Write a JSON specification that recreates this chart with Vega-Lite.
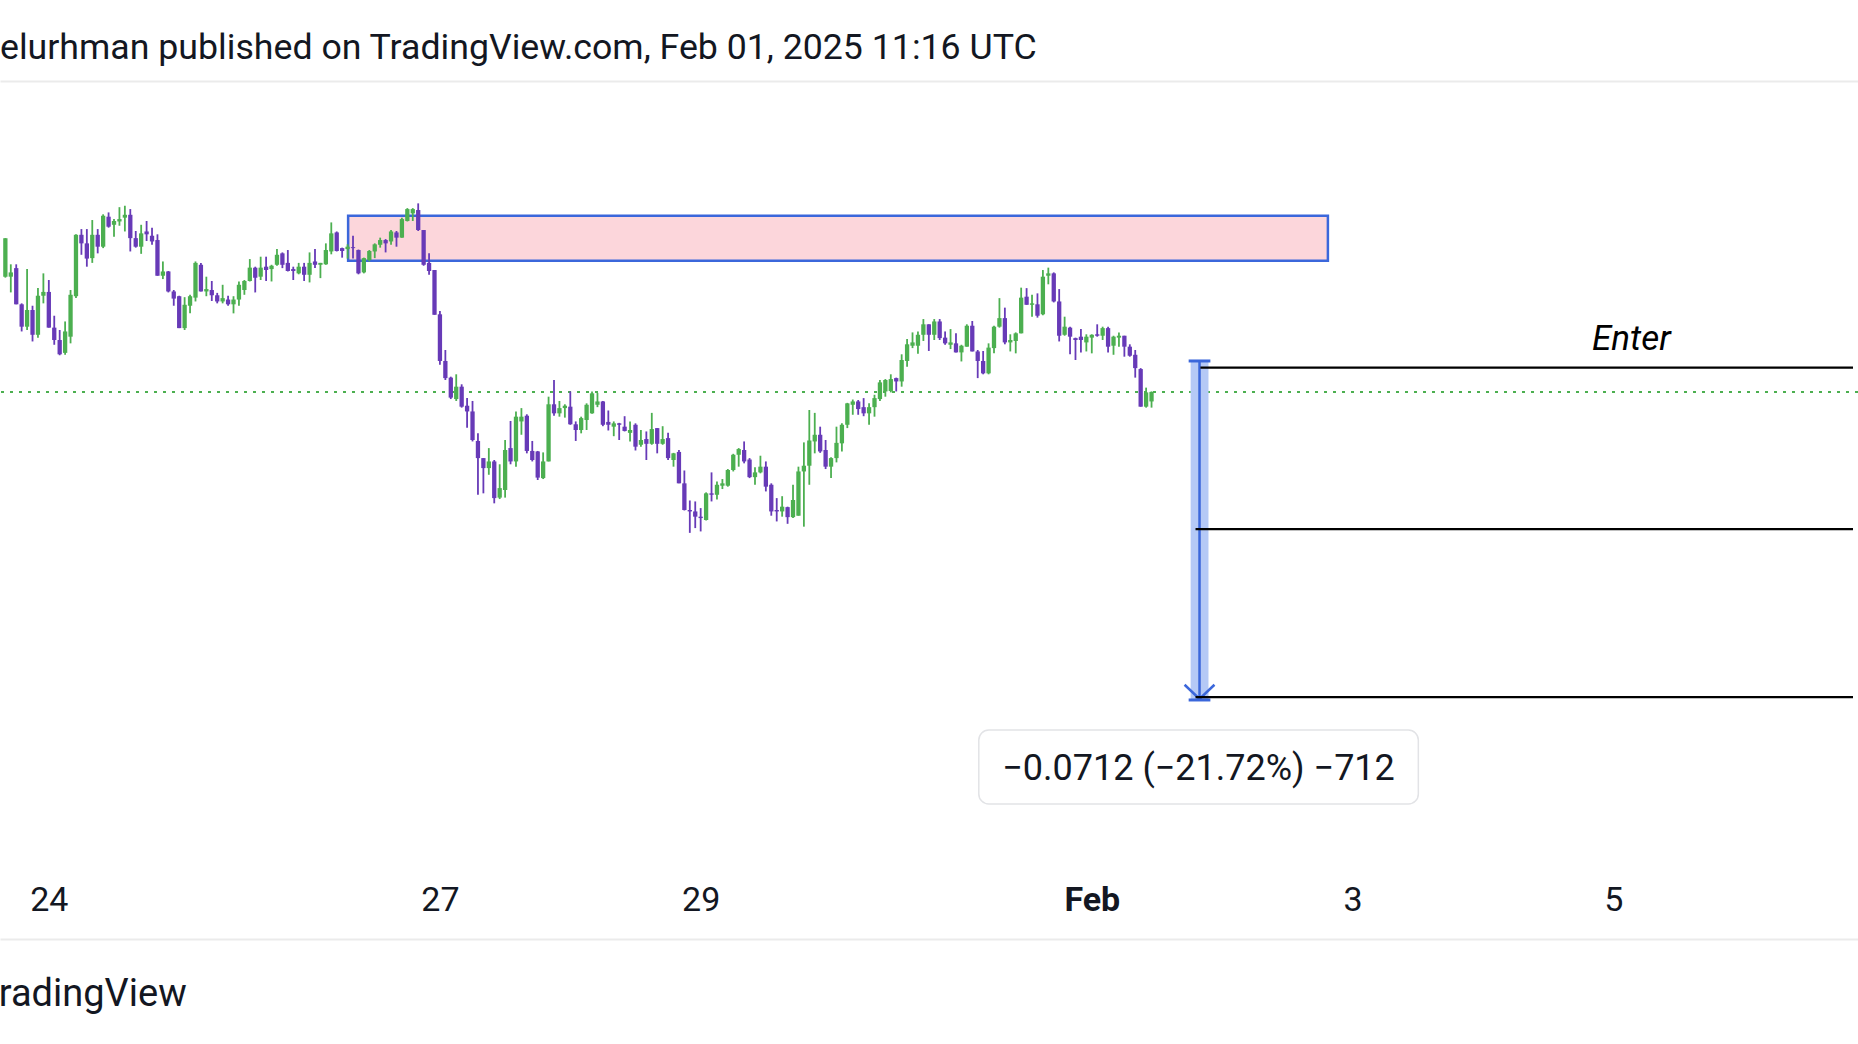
{
"$schema": "https://vega.github.io/schema/vega-lite/v6.json",
"width": 1858,
"height": 858,
"autosize": {"type": "none"},
"padding": {"top": 81, "left": 0, "right": 0, "bottom": 105},
"background": "white",
"config": {"view": {"stroke": null}},
"title": {"text": "elurhman published on TradingView.com, Feb 01, 2025 11:16 UTC", "anchor": "start", "frame": "group", "font": "Roboto", "fontSize": 35.7, "fontWeight": "normal", "color": "#131722", "baseline": "alphabetic", "offset": 18, "dy": 32},
"datasets": {
"zone": [{"t1": "2025-01-26T07:06Z", "t2": "2025-02-02T19:28Z", "p1": 0.35832, "p2": 0.34887}],
"last": [{"p": 0.3213}],
"meas": [{"t1": "2025-02-01T18:12Z", "t2": "2025-02-01T21:29Z", "tm": "2025-02-01T19:50Z", "p1": 0.3278, "p2": 0.2566}],
"caps": [{"t1": "2025-02-01T17:50Z", "t2": "2025-02-01T21:50Z", "p": 0.3278}, {"t1": "2025-02-01T17:50Z", "t2": "2025-02-01T21:50Z", "p": 0.2566}],
"arrow": [{"t": "2025-02-01T17:05Z", "p": 0.2598, "i": 0}, {"t": "2025-02-01T19:50Z", "p": 0.2568, "i": 1}, {"t": "2025-02-01T22:35Z", "p": 0.2598, "i": 2}],
"levels": [{"t1": "2025-02-01T20:00Z", "t2": "2025-02-06T20:08Z", "p": 0.3264}, {"t1": "2025-02-01T19:06Z", "t2": "2025-02-06T20:08Z", "p": 0.2925}, {"t1": "2025-02-01T19:06Z", "t2": "2025-02-06T20:08Z", "p": 0.2572}],
"enter": [{"t": "2025-02-05T03:20Z", "p": 0.3301, "label": "Enter"}],
"label": [{"t1": "2025-01-31T03:12Z", "t2": "2025-02-03T12:07Z", "p1": 0.25029, "p2": 0.23475, "tm": "2025-02-01T19:39Z", "pt": 0.23979, "label": "−0.0712 (−21.72%) −712"}],
"candles": [
{"t":"2025-01-23T16:00Z","o":0.3455,"h":0.3536,"l":0.3453,"c":0.3536},
{"t":"2025-01-23T17:00Z","o":0.3455,"h":0.3481,"l":0.3422,"c":0.3464},
{"t":"2025-01-23T18:00Z","o":0.3473,"h":0.3481,"l":0.3397,"c":0.3397},
{"t":"2025-01-23T19:00Z","o":0.3397,"h":0.3399,"l":0.3340,"c":0.3350},
{"t":"2025-01-23T20:00Z","o":0.3350,"h":0.3471,"l":0.3343,"c":0.3385},
{"t":"2025-01-23T21:00Z","o":0.3385,"h":0.3394,"l":0.3319,"c":0.3333},
{"t":"2025-01-23T22:00Z","o":0.3333,"h":0.3431,"l":0.3327,"c":0.3415},
{"t":"2025-01-23T23:00Z","o":0.3415,"h":0.3462,"l":0.3399,"c":0.3423},
{"t":"2025-01-24T00:00Z","o":0.3423,"h":0.3448,"l":0.3348,"c":0.3348},
{"t":"2025-01-24T01:00Z","o":0.3348,"h":0.3373,"l":0.3312,"c":0.3322},
{"t":"2025-01-24T02:00Z","o":0.3322,"h":0.3343,"l":0.3290,"c":0.3292},
{"t":"2025-01-24T03:00Z","o":0.3295,"h":0.3361,"l":0.3291,"c":0.3340},
{"t":"2025-01-24T04:00Z","o":0.3329,"h":0.3427,"l":0.3315,"c":0.3417},
{"t":"2025-01-24T05:00Z","o":0.3414,"h":0.3544,"l":0.3410,"c":0.3543},
{"t":"2025-01-24T06:00Z","o":0.3543,"h":0.3555,"l":0.3501,"c":0.3525},
{"t":"2025-01-24T07:00Z","o":0.3525,"h":0.3555,"l":0.3476,"c":0.3493},
{"t":"2025-01-24T08:00Z","o":0.3494,"h":0.3574,"l":0.3484,"c":0.3543},
{"t":"2025-01-24T09:00Z","o":0.3543,"h":0.3555,"l":0.3504,"c":0.3518},
{"t":"2025-01-24T10:00Z","o":0.3518,"h":0.3586,"l":0.3515,"c":0.3583},
{"t":"2025-01-24T11:00Z","o":0.3581,"h":0.3590,"l":0.3558,"c":0.3560},
{"t":"2025-01-24T12:00Z","o":0.3564,"h":0.3576,"l":0.3539,"c":0.3572},
{"t":"2025-01-24T13:00Z","o":0.3571,"h":0.3601,"l":0.3562,"c":0.3576},
{"t":"2025-01-24T14:00Z","o":0.3579,"h":0.3604,"l":0.3550,"c":0.3585},
{"t":"2025-01-24T15:00Z","o":0.3585,"h":0.3597,"l":0.3508,"c":0.3536},
{"t":"2025-01-24T16:00Z","o":0.3536,"h":0.3551,"l":0.3516,"c":0.3518},
{"t":"2025-01-24T17:00Z","o":0.3518,"h":0.3564,"l":0.3503,"c":0.3546},
{"t":"2025-01-24T18:00Z","o":0.3550,"h":0.3572,"l":0.3530,"c":0.3544},
{"t":"2025-01-24T19:00Z","o":0.3541,"h":0.3558,"l":0.3522,"c":0.3529},
{"t":"2025-01-24T20:00Z","o":0.3532,"h":0.3544,"l":0.3457,"c":0.3457},
{"t":"2025-01-24T21:00Z","o":0.3457,"h":0.3487,"l":0.3450,"c":0.3466},
{"t":"2025-01-24T22:00Z","o":0.3466,"h":0.3467,"l":0.3422,"c":0.3424},
{"t":"2025-01-24T23:00Z","o":0.3424,"h":0.3427,"l":0.3394,"c":0.3409},
{"t":"2025-01-25T00:00Z","o":0.3414,"h":0.3415,"l":0.3347,"c":0.3347},
{"t":"2025-01-25T01:00Z","o":0.3347,"h":0.3412,"l":0.3343,"c":0.3396},
{"t":"2025-01-25T02:00Z","o":0.3394,"h":0.3417,"l":0.3378,"c":0.3414},
{"t":"2025-01-25T03:00Z","o":0.3411,"h":0.3487,"l":0.3403,"c":0.3484},
{"t":"2025-01-25T04:00Z","o":0.3480,"h":0.3484,"l":0.3424,"c":0.3424},
{"t":"2025-01-25T05:00Z","o":0.3424,"h":0.3455,"l":0.3414,"c":0.3429},
{"t":"2025-01-25T06:00Z","o":0.3427,"h":0.3446,"l":0.3404,"c":0.3416},
{"t":"2025-01-25T07:00Z","o":0.3416,"h":0.3421,"l":0.3399,"c":0.3403},
{"t":"2025-01-25T08:00Z","o":0.3403,"h":0.3438,"l":0.3399,"c":0.3410},
{"t":"2025-01-25T09:00Z","o":0.3407,"h":0.3415,"l":0.3394,"c":0.3397},
{"t":"2025-01-25T10:00Z","o":0.3397,"h":0.3414,"l":0.3378,"c":0.3407},
{"t":"2025-01-25T11:00Z","o":0.3407,"h":0.3445,"l":0.3394,"c":0.3438},
{"t":"2025-01-25T12:00Z","o":0.3427,"h":0.3448,"l":0.3417,"c":0.3446},
{"t":"2025-01-25T13:00Z","o":0.3446,"h":0.3492,"l":0.3445,"c":0.3474},
{"t":"2025-01-25T14:00Z","o":0.3474,"h":0.3476,"l":0.3422,"c":0.3453},
{"t":"2025-01-25T15:00Z","o":0.3455,"h":0.3497,"l":0.3448,"c":0.3474},
{"t":"2025-01-25T16:00Z","o":0.3476,"h":0.3497,"l":0.3446,"c":0.3469},
{"t":"2025-01-25T17:00Z","o":0.3471,"h":0.3480,"l":0.3445,"c":0.3478},
{"t":"2025-01-25T18:00Z","o":0.3480,"h":0.3513,"l":0.3478,"c":0.3501},
{"t":"2025-01-25T19:00Z","o":0.3504,"h":0.3506,"l":0.3473,"c":0.3480},
{"t":"2025-01-25T20:00Z","o":0.3484,"h":0.3511,"l":0.3466,"c":0.3467},
{"t":"2025-01-25T21:00Z","o":0.3471,"h":0.3476,"l":0.3448,"c":0.3467},
{"t":"2025-01-25T22:00Z","o":0.3462,"h":0.3484,"l":0.3460,"c":0.3476},
{"t":"2025-01-25T23:00Z","o":0.3476,"h":0.3484,"l":0.3446,"c":0.3459},
{"t":"2025-01-26T00:00Z","o":0.3459,"h":0.3506,"l":0.3443,"c":0.3484},
{"t":"2025-01-26T01:00Z","o":0.3487,"h":0.3513,"l":0.3473,"c":0.3480},
{"t":"2025-01-26T02:00Z","o":0.3480,"h":0.3484,"l":0.3452,"c":0.3484},
{"t":"2025-01-26T03:00Z","o":0.3481,"h":0.3525,"l":0.3480,"c":0.3511},
{"t":"2025-01-26T04:00Z","o":0.3508,"h":0.3569,"l":0.3502,"c":0.3546},
{"t":"2025-01-26T05:00Z","o":0.3548,"h":0.3550,"l":0.3508,"c":0.3509},
{"t":"2025-01-26T06:00Z","o":0.3515,"h":0.3516,"l":0.3495,"c":0.3509},
{"t":"2025-01-26T07:00Z","o":0.3513,"h":0.3523,"l":0.3493,"c":0.3518},
{"t":"2025-01-26T08:00Z","o":0.3517,"h":0.3541,"l":0.3493,"c":0.3515},
{"t":"2025-01-26T09:00Z","o":0.3511,"h":0.3512,"l":0.3460,"c":0.3462},
{"t":"2025-01-26T10:00Z","o":0.3464,"h":0.3495,"l":0.3462,"c":0.3494},
{"t":"2025-01-26T11:00Z","o":0.3490,"h":0.3511,"l":0.3487,"c":0.3509},
{"t":"2025-01-26T12:00Z","o":0.3508,"h":0.3525,"l":0.3494,"c":0.3523},
{"t":"2025-01-26T13:00Z","o":0.3522,"h":0.3537,"l":0.3516,"c":0.3532},
{"t":"2025-01-26T14:00Z","o":0.3532,"h":0.3534,"l":0.3506,"c":0.3525},
{"t":"2025-01-26T15:00Z","o":0.3529,"h":0.3553,"l":0.3522,"c":0.3550},
{"t":"2025-01-26T16:00Z","o":0.3548,"h":0.3551,"l":0.3518,"c":0.3537},
{"t":"2025-01-26T17:00Z","o":0.3537,"h":0.3579,"l":0.3537,"c":0.3576},
{"t":"2025-01-26T18:00Z","o":0.3572,"h":0.3599,"l":0.3571,"c":0.3597},
{"t":"2025-01-26T19:00Z","o":0.3588,"h":0.3599,"l":0.3572,"c":0.3597},
{"t":"2025-01-26T20:00Z","o":0.3595,"h":0.3609,"l":0.3551,"c":0.3553},
{"t":"2025-01-26T21:00Z","o":0.3553,"h":0.3553,"l":0.3478,"c":0.3480},
{"t":"2025-01-26T22:00Z","o":0.3484,"h":0.3504,"l":0.3459,"c":0.3467},
{"t":"2025-01-26T23:00Z","o":0.3469,"h":0.3469,"l":0.3375,"c":0.3375},
{"t":"2025-01-27T00:00Z","o":0.3376,"h":0.3383,"l":0.3270,"c":0.3278},
{"t":"2025-01-27T01:00Z","o":0.3278,"h":0.3301,"l":0.3238,"c":0.3242},
{"t":"2025-01-27T02:00Z","o":0.3243,"h":0.3245,"l":0.3198,"c":0.3201},
{"t":"2025-01-27T03:00Z","o":0.3198,"h":0.3250,"l":0.3194,"c":0.3224},
{"t":"2025-01-27T04:00Z","o":0.3224,"h":0.3229,"l":0.3180,"c":0.3182},
{"t":"2025-01-27T05:00Z","o":0.3184,"h":0.3200,"l":0.3138,"c":0.3172},
{"t":"2025-01-27T06:00Z","o":0.3172,"h":0.3194,"l":0.3109,"c":0.3112},
{"t":"2025-01-27T07:00Z","o":0.3110,"h":0.3126,"l":0.2997,"c":0.3074},
{"t":"2025-01-27T08:00Z","o":0.3074,"h":0.3074,"l":0.3000,"c":0.3053},
{"t":"2025-01-27T09:00Z","o":0.3053,"h":0.3095,"l":0.3039,"c":0.3067},
{"t":"2025-01-27T10:00Z","o":0.3067,"h":0.3070,"l":0.2979,"c":0.2990},
{"t":"2025-01-27T11:00Z","o":0.2991,"h":0.3061,"l":0.2988,"c":0.3011},
{"t":"2025-01-27T12:00Z","o":0.3007,"h":0.3112,"l":0.2991,"c":0.3091},
{"t":"2025-01-27T13:00Z","o":0.3095,"h":0.3152,"l":0.3061,"c":0.3067},
{"t":"2025-01-27T14:00Z","o":0.3067,"h":0.3172,"l":0.3056,"c":0.3161},
{"t":"2025-01-27T15:00Z","o":0.3151,"h":0.3179,"l":0.3123,"c":0.3161},
{"t":"2025-01-27T16:00Z","o":0.3163,"h":0.3166,"l":0.3084,"c":0.3089},
{"t":"2025-01-27T17:00Z","o":0.3089,"h":0.3110,"l":0.3067,"c":0.3070},
{"t":"2025-01-27T18:00Z","o":0.3088,"h":0.3089,"l":0.3028,"c":0.3033},
{"t":"2025-01-27T19:00Z","o":0.3032,"h":0.3086,"l":0.3030,"c":0.3067},
{"t":"2025-01-27T20:00Z","o":0.3067,"h":0.3203,"l":0.3067,"c":0.3187},
{"t":"2025-01-27T21:00Z","o":0.3187,"h":0.3238,"l":0.3163,"c":0.3168},
{"t":"2025-01-27T22:00Z","o":0.3168,"h":0.3194,"l":0.3161,"c":0.3179},
{"t":"2025-01-27T23:00Z","o":0.3179,"h":0.3187,"l":0.3159,"c":0.3184},
{"t":"2025-01-28T00:00Z","o":0.3182,"h":0.3214,"l":0.3144,"c":0.3145},
{"t":"2025-01-28T01:00Z","o":0.3145,"h":0.3151,"l":0.3110,"c":0.3133},
{"t":"2025-01-28T02:00Z","o":0.3133,"h":0.3161,"l":0.3126,"c":0.3158},
{"t":"2025-01-28T03:00Z","o":0.3154,"h":0.3189,"l":0.3133,"c":0.3186},
{"t":"2025-01-28T04:00Z","o":0.3168,"h":0.3214,"l":0.3167,"c":0.3210},
{"t":"2025-01-28T05:00Z","o":0.3186,"h":0.3211,"l":0.3181,"c":0.3193},
{"t":"2025-01-28T06:00Z","o":0.3193,"h":0.3194,"l":0.3141,"c":0.3144},
{"t":"2025-01-28T07:00Z","o":0.3150,"h":0.3174,"l":0.3132,"c":0.3144},
{"t":"2025-01-28T08:00Z","o":0.3140,"h":0.3151,"l":0.3120,"c":0.3147},
{"t":"2025-01-28T09:00Z","o":0.3147,"h":0.3148,"l":0.3112,"c":0.3144},
{"t":"2025-01-28T10:00Z","o":0.3140,"h":0.3162,"l":0.3130,"c":0.3131},
{"t":"2025-01-28T11:00Z","o":0.3127,"h":0.3151,"l":0.3109,"c":0.3133},
{"t":"2025-01-28T12:00Z","o":0.3144,"h":0.3147,"l":0.3090,"c":0.3098},
{"t":"2025-01-28T13:00Z","o":0.3102,"h":0.3133,"l":0.3098,"c":0.3112},
{"t":"2025-01-28T14:00Z","o":0.3114,"h":0.3130,"l":0.3070,"c":0.3104},
{"t":"2025-01-28T15:00Z","o":0.3104,"h":0.3169,"l":0.3102,"c":0.3135},
{"t":"2025-01-28T16:00Z","o":0.3137,"h":0.3137,"l":0.3084,"c":0.3104},
{"t":"2025-01-28T17:00Z","o":0.3104,"h":0.3141,"l":0.3102,"c":0.3114},
{"t":"2025-01-28T18:00Z","o":0.3116,"h":0.3127,"l":0.3070,"c":0.3074},
{"t":"2025-01-28T19:00Z","o":0.3070,"h":0.3085,"l":0.3056,"c":0.3084},
{"t":"2025-01-28T20:00Z","o":0.3087,"h":0.3091,"l":0.3021,"c":0.3021},
{"t":"2025-01-28T21:00Z","o":0.3021,"h":0.3048,"l":0.2964,"c":0.2965},
{"t":"2025-01-28T22:00Z","o":0.2965,"h":0.2985,"l":0.2917,"c":0.2962},
{"t":"2025-01-28T23:00Z","o":0.2962,"h":0.2983,"l":0.2927,"c":0.2951},
{"t":"2025-01-29T00:00Z","o":0.2951,"h":0.2969,"l":0.2920,"c":0.2948},
{"t":"2025-01-29T01:00Z","o":0.2944,"h":0.3002,"l":0.2943,"c":0.3000},
{"t":"2025-01-29T02:00Z","o":0.3000,"h":0.3044,"l":0.2983,"c":0.2997},
{"t":"2025-01-29T03:00Z","o":0.2997,"h":0.3025,"l":0.2987,"c":0.3018},
{"t":"2025-01-29T04:00Z","o":0.3016,"h":0.3030,"l":0.3009,"c":0.3021},
{"t":"2025-01-29T05:00Z","o":0.3016,"h":0.3051,"l":0.3014,"c":0.3049},
{"t":"2025-01-29T06:00Z","o":0.3049,"h":0.3083,"l":0.3046,"c":0.3081},
{"t":"2025-01-29T07:00Z","o":0.3081,"h":0.3095,"l":0.3056,"c":0.3093},
{"t":"2025-01-29T08:00Z","o":0.3091,"h":0.3109,"l":0.3063,"c":0.3067},
{"t":"2025-01-29T09:00Z","o":0.3071,"h":0.3074,"l":0.3032,"c":0.3034},
{"t":"2025-01-29T10:00Z","o":0.3034,"h":0.3055,"l":0.3018,"c":0.3044},
{"t":"2025-01-29T11:00Z","o":0.3044,"h":0.3079,"l":0.3042,"c":0.3056},
{"t":"2025-01-29T12:00Z","o":0.3056,"h":0.3067,"l":0.3004,"c":0.3014},
{"t":"2025-01-29T13:00Z","o":0.3018,"h":0.3021,"l":0.2953,"c":0.2962},
{"t":"2025-01-29T14:00Z","o":0.2965,"h":0.2990,"l":0.2941,"c":0.2962},
{"t":"2025-01-29T15:00Z","o":0.2962,"h":0.2994,"l":0.2951,"c":0.2972},
{"t":"2025-01-29T16:00Z","o":0.2971,"h":0.2972,"l":0.2936,"c":0.2950},
{"t":"2025-01-29T17:00Z","o":0.2950,"h":0.3018,"l":0.2948,"c":0.2986},
{"t":"2025-01-29T18:00Z","o":0.2953,"h":0.3056,"l":0.2953,"c":0.3046},
{"t":"2025-01-29T19:00Z","o":0.3046,"h":0.3107,"l":0.2930,"c":0.3058},
{"t":"2025-01-29T20:00Z","o":0.3058,"h":0.3175,"l":0.3018,"c":0.3111},
{"t":"2025-01-29T21:00Z","o":0.3109,"h":0.3169,"l":0.3084,"c":0.3123},
{"t":"2025-01-29T22:00Z","o":0.3123,"h":0.3140,"l":0.3085,"c":0.3088},
{"t":"2025-01-29T23:00Z","o":0.3091,"h":0.3112,"l":0.3051,"c":0.3056},
{"t":"2025-01-30T00:00Z","o":0.3056,"h":0.3076,"l":0.3032,"c":0.3074},
{"t":"2025-01-30T01:00Z","o":0.3074,"h":0.3140,"l":0.3065,"c":0.3106},
{"t":"2025-01-30T02:00Z","o":0.3105,"h":0.3147,"l":0.3088,"c":0.3144},
{"t":"2025-01-30T03:00Z","o":0.3144,"h":0.3190,"l":0.3137,"c":0.3189},
{"t":"2025-01-30T04:00Z","o":0.3186,"h":0.3197,"l":0.3165,"c":0.3193},
{"t":"2025-01-30T05:00Z","o":0.3193,"h":0.3196,"l":0.3165,"c":0.3177},
{"t":"2025-01-30T06:00Z","o":0.3181,"h":0.3200,"l":0.3162,"c":0.3168},
{"t":"2025-01-30T07:00Z","o":0.3168,"h":0.3189,"l":0.3144,"c":0.3181},
{"t":"2025-01-30T08:00Z","o":0.3181,"h":0.3207,"l":0.3161,"c":0.3200},
{"t":"2025-01-30T09:00Z","o":0.3198,"h":0.3238,"l":0.3194,"c":0.3233},
{"t":"2025-01-30T10:00Z","o":0.3214,"h":0.3240,"l":0.3203,"c":0.3238},
{"t":"2025-01-30T11:00Z","o":0.3215,"h":0.3250,"l":0.3212,"c":0.3240},
{"t":"2025-01-30T12:00Z","o":0.3242,"h":0.3243,"l":0.3214,"c":0.3235},
{"t":"2025-01-30T13:00Z","o":0.3235,"h":0.3292,"l":0.3224,"c":0.3280},
{"t":"2025-01-30T14:00Z","o":0.3278,"h":0.3324,"l":0.3266,"c":0.3313},
{"t":"2025-01-30T15:00Z","o":0.3310,"h":0.3338,"l":0.3305,"c":0.3317},
{"t":"2025-01-30T16:00Z","o":0.3310,"h":0.3340,"l":0.3293,"c":0.3333},
{"t":"2025-01-30T17:00Z","o":0.3333,"h":0.3366,"l":0.3320,"c":0.3355},
{"t":"2025-01-30T18:00Z","o":0.3355,"h":0.3355,"l":0.3299,"c":0.3333},
{"t":"2025-01-30T19:00Z","o":0.3333,"h":0.3366,"l":0.3322,"c":0.3361},
{"t":"2025-01-30T20:00Z","o":0.3361,"h":0.3366,"l":0.3322,"c":0.3326},
{"t":"2025-01-30T21:00Z","o":0.3327,"h":0.3340,"l":0.3312,"c":0.3315},
{"t":"2025-01-30T22:00Z","o":0.3312,"h":0.3345,"l":0.3303,"c":0.3317},
{"t":"2025-01-30T23:00Z","o":0.3315,"h":0.3336,"l":0.3296,"c":0.3296},
{"t":"2025-01-31T00:00Z","o":0.3296,"h":0.3312,"l":0.3277,"c":0.3310},
{"t":"2025-01-31T01:00Z","o":0.3308,"h":0.3355,"l":0.3308,"c":0.3352},
{"t":"2025-01-31T02:00Z","o":0.3352,"h":0.3362,"l":0.3298,"c":0.3298},
{"t":"2025-01-31T03:00Z","o":0.3298,"h":0.3301,"l":0.3242,"c":0.3278},
{"t":"2025-01-31T04:00Z","o":0.3278,"h":0.3299,"l":0.3250,"c":0.3252},
{"t":"2025-01-31T05:00Z","o":0.3252,"h":0.3315,"l":0.3250,"c":0.3306},
{"t":"2025-01-31T06:00Z","o":0.3305,"h":0.3352,"l":0.3294,"c":0.3350},
{"t":"2025-01-31T07:00Z","o":0.3350,"h":0.3410,"l":0.3348,"c":0.3368},
{"t":"2025-01-31T08:00Z","o":0.3368,"h":0.3390,"l":0.3313,"c":0.3317},
{"t":"2025-01-31T09:00Z","o":0.3317,"h":0.3334,"l":0.3298,"c":0.3322},
{"t":"2025-01-31T10:00Z","o":0.3320,"h":0.3338,"l":0.3294,"c":0.3336},
{"t":"2025-01-31T11:00Z","o":0.3336,"h":0.3432,"l":0.3336,"c":0.3411},
{"t":"2025-01-31T12:00Z","o":0.3413,"h":0.3431,"l":0.3396,"c":0.3396},
{"t":"2025-01-31T13:00Z","o":0.3396,"h":0.3417,"l":0.3371,"c":0.3399},
{"t":"2025-01-31T14:00Z","o":0.3397,"h":0.3420,"l":0.3369,"c":0.3373},
{"t":"2025-01-31T15:00Z","o":0.3376,"h":0.3469,"l":0.3374,"c":0.3455},
{"t":"2025-01-31T16:00Z","o":0.3457,"h":0.3474,"l":0.3439,"c":0.3462},
{"t":"2025-01-31T17:00Z","o":0.3462,"h":0.3464,"l":0.3401,"c":0.3403},
{"t":"2025-01-31T18:00Z","o":0.3403,"h":0.3429,"l":0.3319,"c":0.3331},
{"t":"2025-01-31T19:00Z","o":0.3333,"h":0.3371,"l":0.3331,"c":0.3350},
{"t":"2025-01-31T20:00Z","o":0.3348,"h":0.3350,"l":0.3292,"c":0.3329},
{"t":"2025-01-31T21:00Z","o":0.3326,"h":0.3327,"l":0.3280,"c":0.3322},
{"t":"2025-01-31T22:00Z","o":0.3329,"h":0.3345,"l":0.3296,"c":0.3322},
{"t":"2025-01-31T23:00Z","o":0.3317,"h":0.3334,"l":0.3298,"c":0.3329},
{"t":"2025-02-01T00:00Z","o":0.3327,"h":0.3334,"l":0.3294,"c":0.3333},
{"t":"2025-02-01T01:00Z","o":0.3334,"h":0.3355,"l":0.3329,"c":0.3331},
{"t":"2025-02-01T02:00Z","o":0.3331,"h":0.3350,"l":0.3322,"c":0.3347},
{"t":"2025-02-01T03:00Z","o":0.3347,"h":0.3350,"l":0.3296,"c":0.3308},
{"t":"2025-02-01T04:00Z","o":0.3310,"h":0.3331,"l":0.3291,"c":0.3329},
{"t":"2025-02-01T05:00Z","o":0.3327,"h":0.3338,"l":0.3308,"c":0.3331},
{"t":"2025-02-01T06:00Z","o":0.3331,"h":0.3331,"l":0.3287,"c":0.3308},
{"t":"2025-02-01T07:00Z","o":0.3308,"h":0.3313,"l":0.3287,"c":0.3289},
{"t":"2025-02-01T08:00Z","o":0.3291,"h":0.3301,"l":0.3243,"c":0.3263},
{"t":"2025-02-01T09:00Z","o":0.3261,"h":0.3263,"l":0.3182,"c":0.3182},
{"t":"2025-02-01T10:00Z","o":0.3182,"h":0.3222,"l":0.3180,"c":0.3212},
{"t":"2025-02-01T11:00Z","o":0.3193,"h":0.3214,"l":0.3180,"c":0.3213}
]
},
"layer": [
{"data": {"name": "zone"}, "mark": {"type": "rect", "fill": "#FCD6DB", "stroke": "#3B67DB", "strokeWidth": 2.5},
 "encoding": {"x": {"field": "t1", "type": "temporal", "scale": {"type": "utc", "domain": [1737647760000, 1738872480000], "nice": false},
   "axis": {"values": [1737676800000, 1737936000000, 1738108800000, 1738368000000, 1738540800000, 1738713600000],
    "labelExpr": "utcdate(datum.value) == 1 ? 'Feb' : '' + utcdate(datum.value)",
    "labelFontWeight": {"condition": {"test": "utcdate(datum.value) == 1", "value": "bold"}, "value": "normal"},
    "labelFont": "Roboto", "labelFontSize": 34, "labelColor": "#131722", "labelPadding": -29, "labelBaseline": "alphabetic", "labelAlign": "center",
    "labelOverlap": false, "labelFlush": false, "labelBound": false,
    "ticks": false, "domain": true, "domainColor": "#EBEBEB", "domainWidth": 2, "grid": false,
    "title": "TradingView", "titleX": -23, "titleY": 66, "titleAlign": "left", "titleBaseline": "alphabetic", "titleFont": "Roboto", "titleFontSize": 38, "titleFontWeight": "normal", "titleColor": "#131722"}},
  "x2": {"field": "t2"},
  "y": {"field": "p1", "type": "quantitative", "scale": {"domain": [0.2064, 0.3866], "nice": false, "zero": false},
   "axis": {"values": [0.3866], "grid": true, "gridColor": "#EBEBEB", "gridWidth": 2, "domain": false, "ticks": false, "labels": false, "title": null}},
  "y2": {"field": "p2"}}},
{"data": {"name": "last"}, "mark": {"type": "rule", "stroke": "#4CAF50", "strokeWidth": 2, "strokeDash": [3, 6]},
 "encoding": {"y": {"field": "p", "type": "quantitative"}}},
{"data": {"name": "candles"}, "mark": {"type": "rule", "strokeWidth": 1.8},
 "encoding": {"x": {"field": "t", "type": "temporal"},
  "y": {"field": "l", "type": "quantitative"},
  "y2": {"field": "h"},
  "color": {"condition": {"test": "datum.c >= datum.o", "value": "#4CAF50"}, "value": "#673AB7"}}},
{"data": {"name": "candles"}, "mark": {"type": "bar", "width": 4.3},
 "encoding": {"x": {"field": "t", "type": "temporal"},
  "y": {"field": "o", "type": "quantitative", "scale": {"zero": false}}, "y2": {"field": "c"},
  "color": {"condition": {"test": "datum.c >= datum.o", "value": "#4CAF50"}, "value": "#673AB7"}}},
{"data": {"name": "meas"}, "mark": {"type": "rect", "fill": "#B5C9F6"},
 "encoding": {"x": {"field": "t1", "type": "temporal"}, "x2": {"field": "t2"}, "y": {"field": "p1", "type": "quantitative"}, "y2": {"field": "p2"}}},
{"data": {"name": "meas"}, "mark": {"type": "rule", "stroke": "#3B67DB", "strokeWidth": 2.5},
 "encoding": {"x": {"field": "tm", "type": "temporal"}, "y": {"field": "p1", "type": "quantitative"}, "y2": {"field": "p2"}}},
{"data": {"name": "caps"}, "mark": {"type": "rule", "stroke": "#3B67DB", "strokeWidth": 3},
 "encoding": {"x": {"field": "t1", "type": "temporal"}, "x2": {"field": "t2"}, "y": {"field": "p", "type": "quantitative"}}},
{"data": {"name": "arrow"}, "mark": {"type": "line", "stroke": "#3B67DB", "strokeWidth": 2.5},
 "encoding": {"x": {"field": "t", "type": "temporal"}, "y": {"field": "p", "type": "quantitative"}, "order": {"field": "i"}}},
{"data": {"name": "levels"}, "mark": {"type": "rule", "stroke": "#000000", "strokeWidth": 2.2},
 "encoding": {"x": {"field": "t1", "type": "temporal"}, "x2": {"field": "t2"}, "y": {"field": "p", "type": "quantitative"}}},
{"data": {"name": "enter"}, "mark": {"type": "text", "font": "Roboto", "fontSize": 35, "fontStyle": "italic", "align": "center", "baseline": "alphabetic", "color": "#000000"},
 "encoding": {"x": {"field": "t", "type": "temporal"}, "y": {"field": "p", "type": "quantitative"}, "text": {"field": "label"}}},
{"data": {"name": "label"}, "mark": {"type": "rect", "fill": "#FFFFFF", "stroke": "#E2E3E6", "strokeWidth": 1.5, "cornerRadius": 10},
 "encoding": {"x": {"field": "t1", "type": "temporal"}, "x2": {"field": "t2"}, "y": {"field": "p1", "type": "quantitative"}, "y2": {"field": "p2"}}},
{"data": {"name": "label"}, "mark": {"type": "text", "font": "Roboto", "fontSize": 36, "align": "center", "baseline": "alphabetic", "color": "#131722"},
 "encoding": {"x": {"field": "tm", "type": "temporal"}, "y": {"field": "pt", "type": "quantitative"}, "text": {"field": "label"}}}
]
}
